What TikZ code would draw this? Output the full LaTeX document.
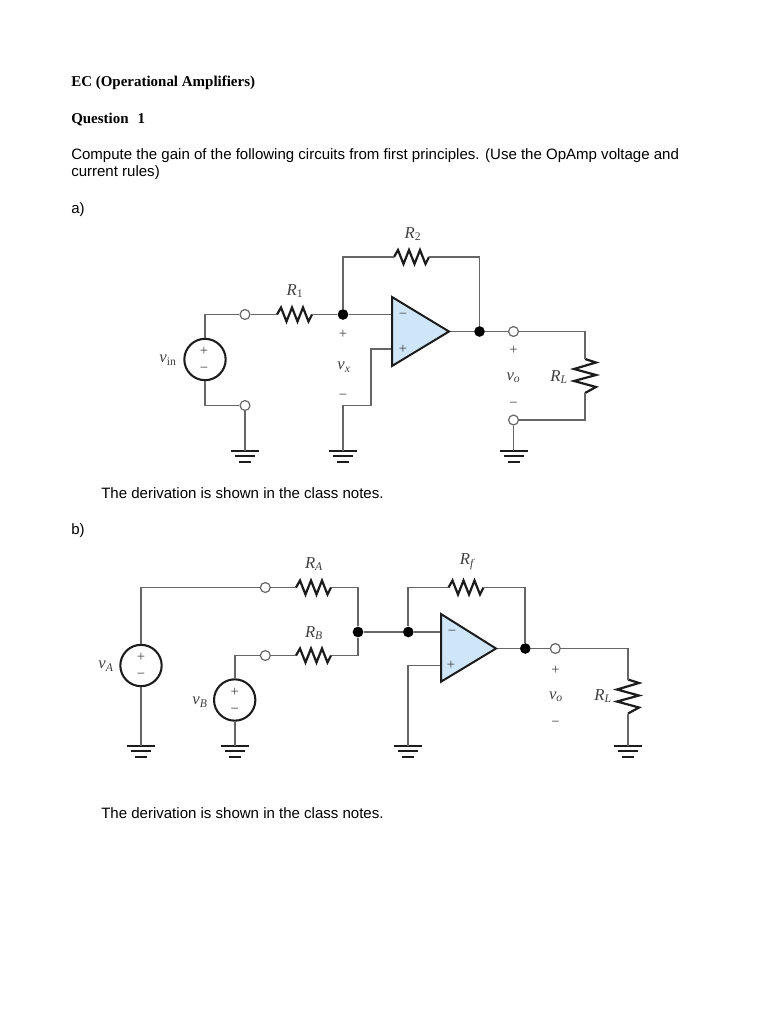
\documentclass[tikz,border=0pt]{standalone}
\usepackage{fontspec}
\setmainfont{Liberation Sans}
\newfontfamily\serifb{Liberation Serif}
\definecolor{wirec}{HTML}{666666}
\definecolor{zigc}{HTML}{1C1C1C}
\definecolor{labc}{HTML}{404040}
\definecolor{ampf}{HTML}{CFE6F8}
\tikzset{
  wire/.style={draw=wirec,line width=1.25pt},
  body/.style={anchor=base west,inner sep=0pt,font=\fontsize{11.27}{13}\selectfont},
  head/.style={anchor=base west,inner sep=0pt,font=\fontsize{11.23}{13}\selectfont\serifb\bfseries},
  term/.style={circle,draw=wirec,fill=white,line width=0.9pt,minimum size=7.4pt,inner sep=0pt},
  jdot/.style={circle,fill=black,minimum size=8pt,inner sep=0pt},
  src/.style={circle,draw=zigc,fill=white,line width=1.55pt,minimum size=31pt,inner sep=0pt},
  amp/.style={draw=zigc,fill=ampf,line width=1.5pt,line join=miter},
  lab/.style={inner sep=0pt,text=labc,font=\fontsize{12.5}{13}\selectfont\serifb\itshape},
  sgn/.style={inner sep=0pt,text=labc,font=\fontsize{11}{12}\selectfont\serifb},
  resh/.pic={\coordinate (-a) at (-17.5,0); \coordinate (-b) at (17.5,0);
    \draw[zigc,line width=1.65pt,line join=miter] (-17.5,0) -- (-13.5,-7) -- (-8,7) -- (-2.5,-7) -- (3,7) -- (8.5,-7) -- (14,7) -- (17.5,0);},
  resv/.pic={\coordinate (-a) at (0,-17); \coordinate (-b) at (0,17);
    \draw[zigc,line width=1.65pt,line join=miter] (0,-17) -- (11,-13.5) -- (-11,-7) -- (11,-1) -- (-11,5) -- (11,11) -- (0,17);},
  gnd/.pic={\coordinate (-t) at (0,0);
    \draw[zigc,line width=1.5pt] (-14,0) -- (14,0) (-10,5.5) -- (10,5.5) (-6,11) -- (6,11);},
}
\begin{document}
\begin{tikzpicture}[x=0.75pt,y=-0.75pt]
\useasboundingbox (0,0) rectangle (768,1024);
\fill[white] (0,0) rectangle (768,1024);
% page text
\node[head] (t1) at (71,87) {EC (Operational Amplifiers)};
\node[head] (t2) at (71,123) {Question\hspace{0.6em}1};
\node[body] (t3) at (71,159) {Compute the gain of the following circuits from first principles. (Use the OpAmp voltage and};
\node[body] (t4) at (71,176) {current rules)};
\node[body] (t5) at (71,213) {a)};
\node[body] (t6) at (101,498) {The derivation is shown in the class notes.};
\node[body] (t7) at (71,534) {b)};
\node[body] (t8) at (101,818) {The derivation is shown in the class notes.};
% circuit a
\node[src] (sa) at (205,359.5) {};
\node[term] (ta1) at (245,314.5) {};
\node[term] (ta2) at (245,405.5) {};
\node[jdot] (ja1) at (343,314.5) {};
\node[jdot] (ja2) at (479.5,331.5) {};
\node[term] (ta3) at (513.5,331.5) {};
\node[term] (ta4) at (513.5,420) {};
\pic (r1) at (294.5,314.5) {resh};
\pic (r2) at (411.5,257) {resh};
\pic (rl) at (585,376) {resv};
\pic (ga1) at (245,450.5) {gnd};
\pic (ga2) at (343,450.5) {gnd};
\pic (ga3) at (513.5,450.5) {gnd};
\coordinate (ampa) at (392,297);
\coordinate (ampam) at (392,314.5);
\coordinate (ampap) at (392,349);
\coordinate (ampao) at (449,331.5);
\draw[wire] (sa.north) |- (ta1);
\draw[wire] (ta1) -- (r1-a);
\draw[wire] (r1-b) -- (ja1);
\draw[wire] (ja1) -- (ampam);
\draw[wire] (ja1) |- (r2-a);
\draw[wire] (r2-b) -| (ja2);
\draw[wire] (ampao) -- (ja2);
\draw[wire] (ja2) -- (ta3);
\draw[wire] (ta3) -| (rl-a);
\draw[wire] (rl-b) |- (ta4);
\draw[wire] (ta4) -- (ga3-t);
\draw[wire] (sa.south) |- (ta2);
\draw[wire] (ta2) -- (ga1-t);
\draw[wire] (ga2-t) |- (371,405.5) |- (ampap);
\draw[amp] (ampa) -- (392,366) -- (ampao) -- cycle;
\node[sgn] (pa1) at (204,351) {+};
\node[sgn] (ma1) at (204,370) {−};
\node[sgn] (pa2) at (403,349) {+};
\node[sgn] (ma2) at (403,315.5) {−};
\node[sgn] (pa3) at (343,334) {+};
\node[sgn] (ma3) at (343,396.5) {−};
\node[sgn] (pa4) at (513.5,350) {+};
\node[sgn] (ma4) at (513.5,405) {−};
\node[lab] (lvin) at (168,360) {v\textsubscript{\upshape in}};
\node[lab] (lvx) at (344,367) {v\textsubscript{x}};
\node[lab] (lr1) at (295,291) {R\textsubscript{\upshape 1}};
\node[lab] (lr2) at (413,234) {R\textsubscript{\upshape 2}};
\node[lab] (lvo) at (513.5,378) {v\textsubscript{o}};
\node[lab] (lrl) at (559,377) {R\textsubscript{L}};
% circuit b
\node[src] (sva) at (141,665.5) {};
\node[src] (svb) at (234.7,700) {};
\node[term] (tb1) at (265.3,587.5) {};
\node[term] (tb2) at (265.3,655.5) {};
\node[jdot] (jb1) at (358,632) {};
\node[jdot] (jb2) at (408.3,632) {};
\node[jdot] (jb3) at (525.3,648.5) {};
\node[term] (tb3) at (555.3,648.5) {};
\pic (ra) at (313.5,587.5) {resh};
\pic (rb) at (313.5,655.5) {resh};
\pic (rf) at (466,587.5) {resh};
\pic (rlb) at (628,696.5) {resv};
\pic (gb1) at (141,745.5) {gnd};
\pic (gb2) at (234.7,745.5) {gnd};
\pic (gb3) at (408.3,745.5) {gnd};
\pic (gb4) at (628,745.5) {gnd};
\coordinate (ampb) at (441,614);
\coordinate (ampbm) at (441,632);
\coordinate (ampbp) at (441,665.5);
\coordinate (ampbo) at (496,648.5);
\draw[wire] (sva.north) |- (tb1);
\draw[wire] (tb1) -- (ra-a);
\draw[wire] (ra-b) -| (jb1);
\draw[wire] (svb.north) |- (tb2);
\draw[wire] (tb2) -- (rb-a);
\draw[wire] (rb-b) -| (jb1);
\draw[wire] (jb1) -- (jb2);
\draw[wire] (jb2) -- (ampbm);
\draw[wire] (jb2) |- (rf-a);
\draw[wire] (rf-b) -| (jb3);
\draw[wire] (ampbo) -- (jb3);
\draw[wire] (jb3) -- (tb3);
\draw[wire] (tb3) -| (rlb-a);
\draw[wire] (rlb-b) -- (gb4-t);
\draw[wire] (sva.south) -- (gb1-t);
\draw[wire] (svb.south) -- (gb2-t);
\draw[wire] (gb3-t) |- (ampbp);
\draw[amp] (ampb) -- (441,681.7) -- (ampbo) -- cycle;
\node[sgn] (pb1) at (141,657.5) {+};
\node[sgn] (mb1) at (141,676) {−};
\node[sgn] (pb2) at (234.7,692) {+};
\node[sgn] (mb2) at (234.7,711) {−};
\node[sgn] (pb3) at (451,665.5) {+};
\node[sgn] (mb3) at (452,632.5) {−};
\node[sgn] (pb4) at (555.5,670) {+};
\node[sgn] (mb4) at (555.5,724) {−};
\node[lab] (lva) at (106,666) {v\textsubscript{A}};
\node[lab] (lvb) at (200,702) {v\textsubscript{B}};
\node[lab] (lra) at (314,564) {R\textsubscript{A}};
\node[lab] (lrb) at (314,633) {R\textsubscript{B}};
\node[lab] (lrf) at (467,562) {R\textsubscript{f}};
\node[lab] (lvob) at (556,697) {v\textsubscript{o}};
\node[lab] (lrlb) at (603,696) {R\textsubscript{L}};
\end{tikzpicture}
\end{document}
